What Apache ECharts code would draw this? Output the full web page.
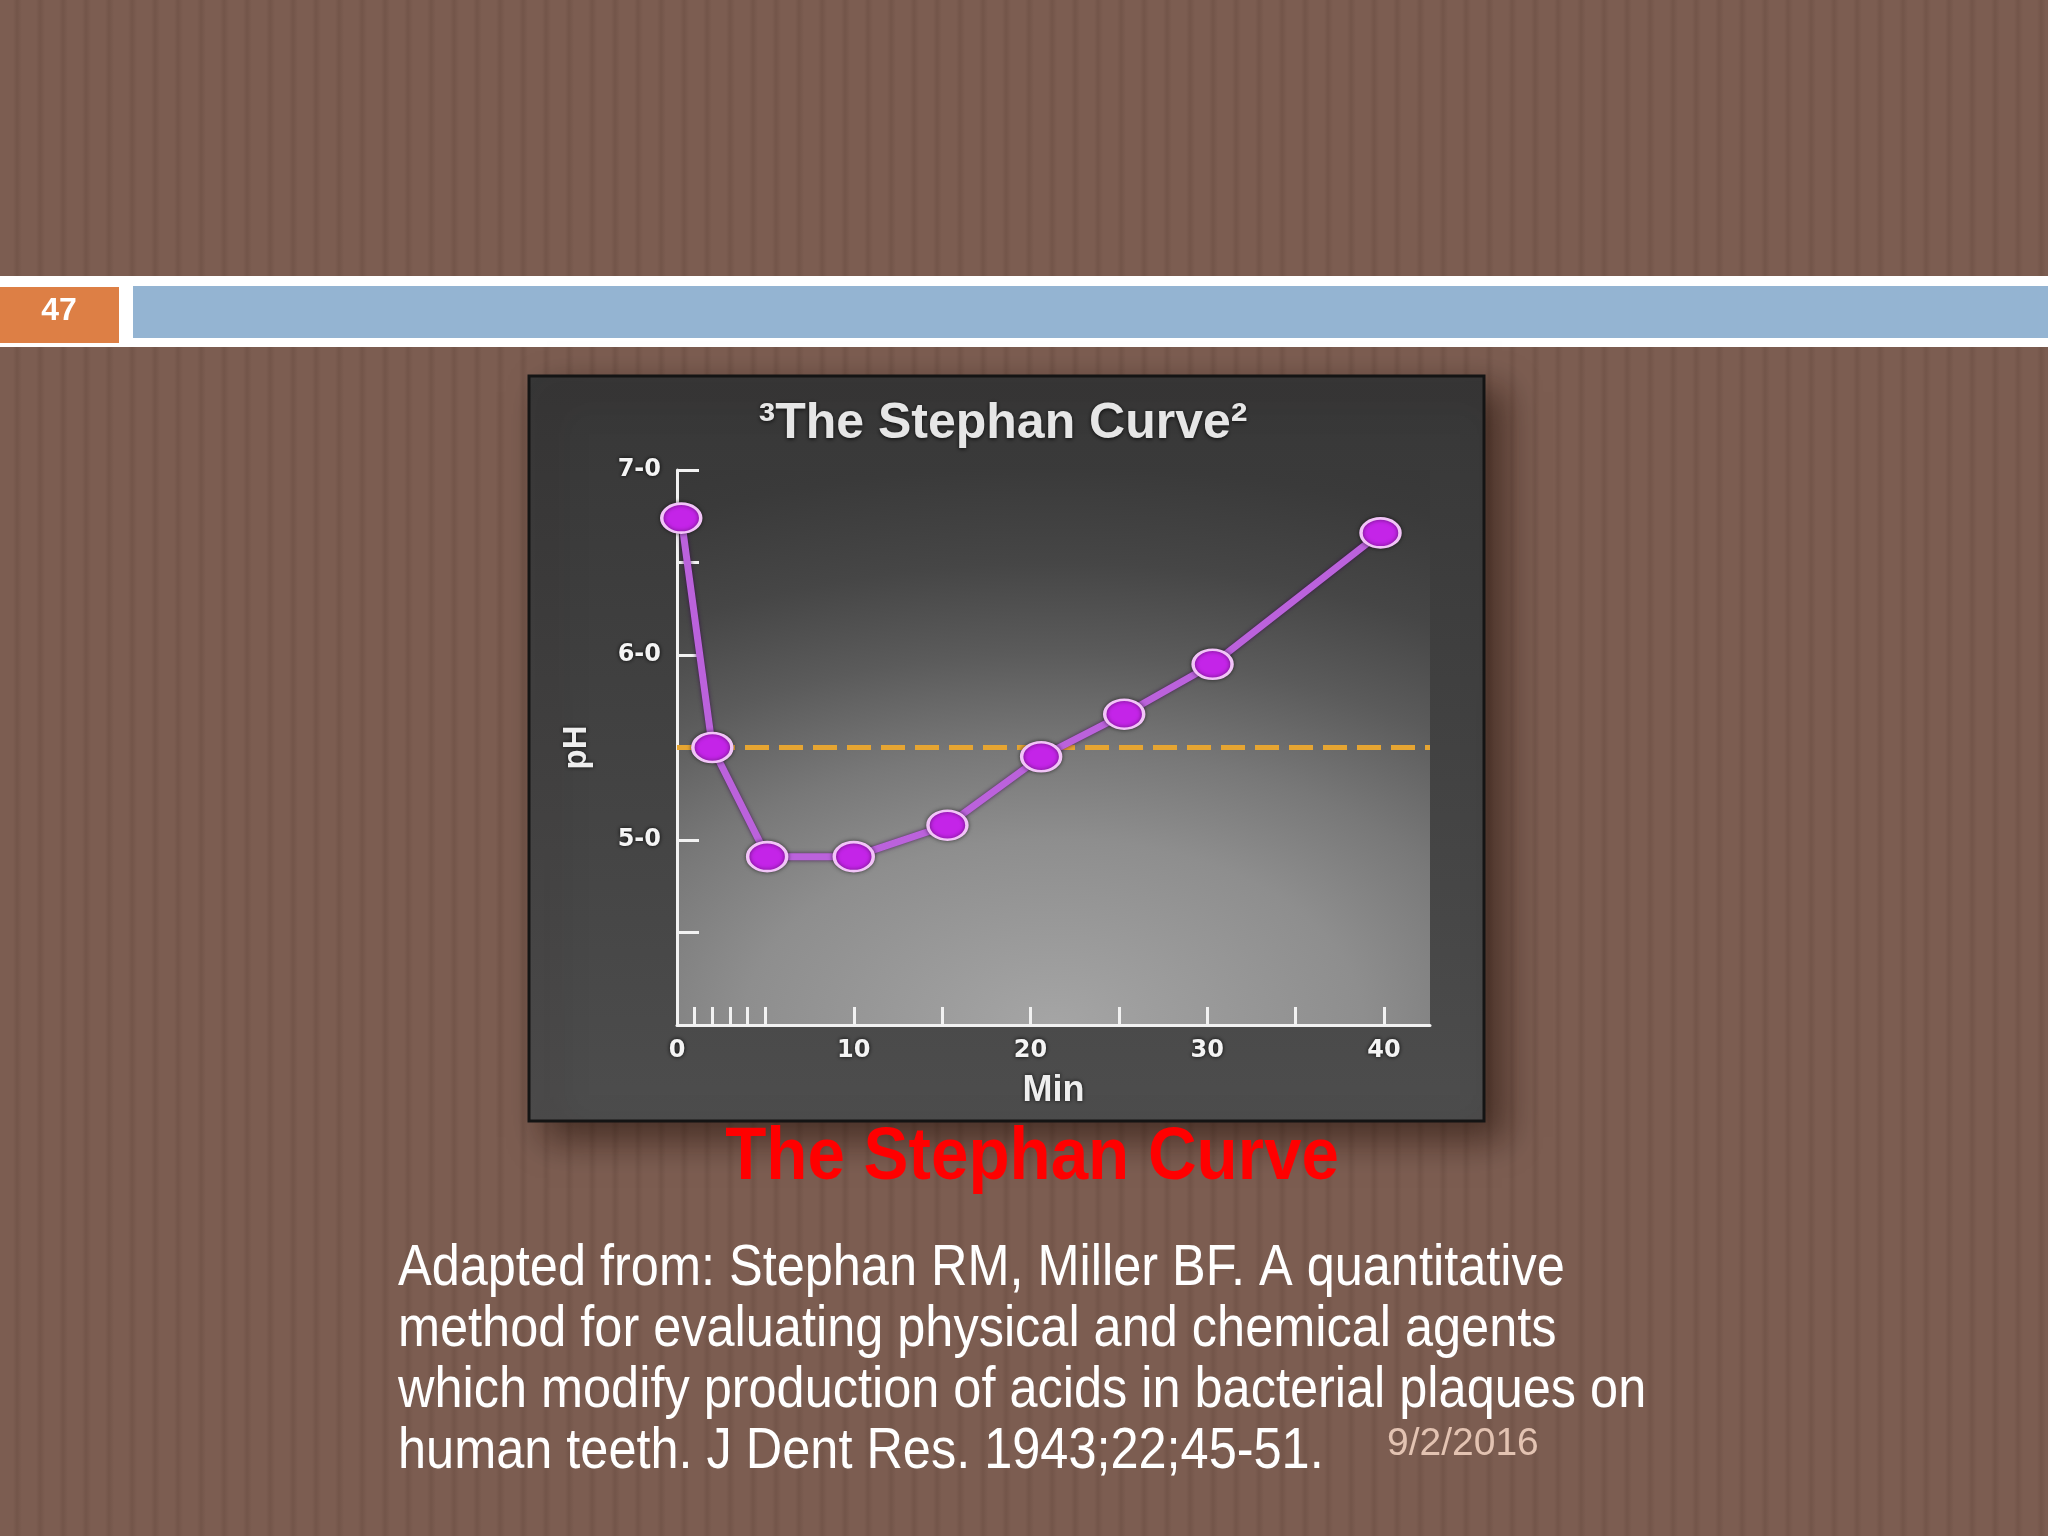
<!DOCTYPE html>
<html lang="en">
	<head>
		<meta charset="utf-8">
		<title>The Stephan Curve</title>
		<script src="https://cdn.jsdelivr.net/npm/echarts@6/dist/echarts.min.js"></script>
		<style>
			html, body {
				margin: 0;
				padding: 0;
			}
			body {
				width: 2048px;
				height: 1536px;
				background-color: #7c5d51;
				background-image: repeating-linear-gradient(90deg,
					rgba(0,0,0,0) 0px, rgba(0,0,0,0) 13px,
					rgba(55,32,22,0.13) 17px, rgba(0,0,0,0) 22px, rgba(0,0,0,0) 23px);
			}
			#chart {
				width: 2048px;
				height: 1536px;
			}
		</style>
	</head>
	<body>
		<div id="chart"></div>

		<script>
			// minutes after the sugar rinse / plaque pH
			var minutes = [0.24, 2, 5.1, 10, 15.3, 20.6, 25.3, 30.3, 39.8];
			var phValues = [6.74, 5.5, 4.91, 4.91, 5.08, 5.45, 5.68, 5.95, 6.66];

			// critical pH, drawn as the dashed line
			var criticalPh = 5.5;
			var criticalSpan = [0, 42.6];

			var xTickValues = [1, 2, 3, 4, 5, 10, 15, 20, 25, 30, 35, 40];
			var xLabelValues = [0, 10, 20, 30, 40];
			var yTickValues = [4.5, 5, 5.5, 6, 6.5, 7];
			var yLabelValues = [5, 6, 7];
			var yLabelTexts = ['5-0', '6-0', '7-0'];

			var citation = [
				'Adapted from: Stephan RM, Miller BF. A quantitative',
				'method for evaluating physical and chemical agents',
				'which modify production of acids in bacterial plaques on',
				'human teeth. J Dent Res. 1943;22;45-51.'
			];

			var sans = '"Liberation Sans", Arial, sans-serif';
			var tickFont = '"DejaVu Sans", sans-serif';

			// plot area, in pixels
			var plotLeft = 677, plotTop = 470, plotW = 753, plotH = 555;

			var curveData = minutes.map(function (m, i) {
				return [m, phValues[i]];
			});
			var criticalData = criticalSpan.map(function (m) {
				return [m, criticalPh];
			});

			// the glow behind the plot is an ellipse, so the rect is drawn tall and squashed
			var squash = 0.6;
			var glow = {
				type: 'radial', x: 0.5, y: 1, r: 1000 / plotW,
				colorStops: [
					{ offset: 0, color: '#a5a5a5' },
					{ offset: 0.31, color: '#8e8e8e' },
					{ offset: 0.46, color: '#787878' },
					{ offset: 0.62, color: '#5b5b5b' },
					{ offset: 0.77, color: '#464646' },
					{ offset: 0.93, color: '#3a3a3a' },
					{ offset: 1, color: '#383838' }
				]
			};

			var graphics = [
				// slide header
				{ type: 'rect', z: -10, shape: { x: 0, y: 276, width: 2048, height: 71 }, style: { fill: '#ffffff' } },
				{ type: 'rect', z: -9, shape: { x: 0, y: 287, width: 119, height: 56 }, style: { fill: '#dd7f45' } },
				{ type: 'rect', z: -9, shape: { x: 133, y: 286, width: 1915, height: 52 }, style: { fill: '#94b4d2' } },
				{ type: 'text', z: 5, style: { x: 59, y: 311, text: '47', fill: '#ffffff',
					font: 'bold 32px ' + sans, textAlign: 'center', textVerticalAlign: 'middle' } },
				// dark picture frame
				{ type: 'rect', z: -10, shape: { x: 529, y: 376, width: 955, height: 745 },
					style: {
						fill: new echarts.graphic.LinearGradient(0, 0, 0, 1, [
							{ offset: 0, color: '#373737' },
							{ offset: 1, color: '#4d4d4d' }
						]),
						stroke: '#141414',
						lineWidth: 3,
						shadowBlur: 34,
						shadowOffsetX: 18,
						shadowOffsetY: 16,
						shadowColor: 'rgba(35,18,10,0.6)'
					} },
				{ type: 'rect', z: -8, x: plotLeft, y: plotTop, scaleY: squash,
					shape: { x: 0, y: 0, width: plotW, height: plotH / squash },
					style: { fill: glow } },
				{ type: 'text', z: 5, style: { x: 1003, y: 449, text: '\u00b3The Stephan Curve\u00b2', fill: '#e6e6e6',
					font: 'bold 50px ' + sans, textAlign: 'center', textVerticalAlign: 'bottom',
					textShadowColor: 'rgba(0,0,0,0.8)', textShadowBlur: 4, textShadowOffsetY: 1 } },
				// caption under the picture
				{ type: 'text', z: 5, x: 1032, y: 1196, scaleX: 0.91,
					style: { x: 0, y: 0, text: 'The Stephan Curve', fill: '#ff0000',
					font: 'bold 74px ' + sans, textAlign: 'center', textVerticalAlign: 'bottom' } },
				{ type: 'text', z: 5, style: { x: 1387, y: 1464, text: '9/2/2016', fill: '#e3c3b2',
					font: '39px ' + sans, textAlign: 'left', textVerticalAlign: 'bottom' } }
			];
			citation.forEach(function (line, i) {
				graphics.push({ type: 'text', z: 5, x: 398, y: 1298 + i * 61, scaleX: 0.87,
					style: { x: 0, y: 0, text: line, fill: '#ffffff',
					font: '58px ' + sans, textAlign: 'left', textVerticalAlign: 'bottom' } });
			});

			var option = {
				backgroundColor: 'transparent',
				animation: false,
				graphic: graphics,
				grid: {
					left: plotLeft,
					top: plotTop,
					width: plotW,
					height: plotH
				},
				xAxis: {
					type: 'value',
					min: 0,
					max: 42.6,
					name: 'Min',
					nameLocation: 'middle',
					nameGap: 48,
					nameTextStyle: {
						color: '#eeeeee', fontSize: 36, fontWeight: 'bold', fontFamily: sans,
						textShadowColor: 'rgba(0,0,0,0.8)', textShadowBlur: 4
					},
					splitLine: { show: false },
					axisLine: { lineStyle: { color: '#f2f2f2', width: 3 } },
					axisTick: {
						inside: true,
						length: 18,
						customValues: xTickValues,
						lineStyle: { color: '#f2f2f2', width: 3 }
					},
					axisLabel: {
						customValues: xLabelValues,
						margin: 14,
						color: '#f4f4f4',
						fontSize: 24,
						fontWeight: 'bold',
						fontFamily: tickFont,
						textShadowColor: 'rgba(0,0,0,0.9)',
						textShadowBlur: 4
					}
				},
				yAxis: {
					type: 'value',
					min: 4,
					max: 7,
					name: 'pH',
					nameLocation: 'middle',
					nameGap: 84,
					nameTextStyle: {
						color: '#eeeeee', fontSize: 33, fontWeight: 'bold', fontFamily: sans,
						textShadowColor: 'rgba(0,0,0,0.8)', textShadowBlur: 4
					},
					splitLine: { show: false },
					axisLine: { lineStyle: { color: '#f2f2f2', width: 3 } },
					axisTick: {
						inside: true,
						length: 22,
						customValues: yTickValues,
						lineStyle: { color: '#f2f2f2', width: 3 }
					},
					axisLabel: {
						customValues: yLabelValues,
						margin: 16,
						color: '#f4f4f4',
						fontSize: 24,
						fontWeight: 'bold',
						fontFamily: tickFont,
						textShadowColor: 'rgba(0,0,0,0.9)',
						textShadowBlur: 4,
						formatter: function (v) {
							var i = yLabelValues.indexOf(v);
							return i >= 0 ? yLabelTexts[i] : '';
						}
					}
				},
				series: [
					{
						name: 'critical pH',
						type: 'line',
						data: criticalData,
						symbol: 'none',
						silent: true,
						z: 2,
						lineStyle: { color: '#e6a532', width: 5, type: [24, 10] }
					},
					{
						name: 'plaque pH',
						type: 'line',
						data: curveData,
						z: 3,
						symbol: 'circle',
						symbolSize: [39, 29],
						lineStyle: {
							color: '#bb62dc',
							width: 7,
							shadowColor: 'rgba(50,0,70,0.7)',
							shadowBlur: 4
						},
						itemStyle: {
							color: '#c424e8',
							borderColor: '#f2c4f8',
							borderWidth: 3,
							shadowColor: 'rgba(0,0,0,0.5)',
							shadowBlur: 4
						}
					}
				]
			};

			var myChart = echarts.init(document.getElementById('chart'));
			myChart.setOption(option);
		</script>
	</body>
</html>
